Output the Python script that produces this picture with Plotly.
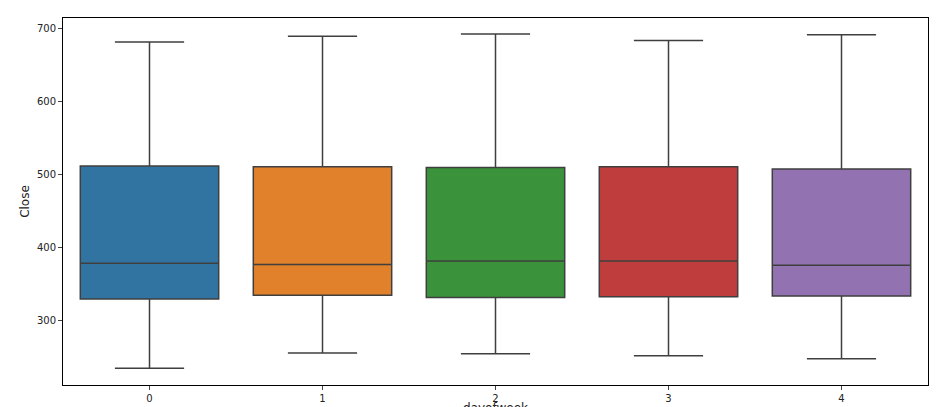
import plotly.graph_objects as go

days = [0, 1, 2, 3, 4]
lower = [234, 255, 254, 251, 247]
q1 = [329, 334, 331, 332, 333]
median = [378, 376, 381, 381, 375]
q3 = [511, 510, 509, 510, 507]
upper = [681, 689, 692, 683, 691]
colors = ["#3274a1", "#e1812c", "#3a923a", "#c03d3e", "#9372b2"]

fig = go.Figure()
for i, d in enumerate(days):
    fig.add_trace(go.Box(
        x=[d], q1=[q1[i]], median=[median[i]], q3=[q3[i]],
        lowerfence=[lower[i]], upperfence=[upper[i]],
        fillcolor=colors[i], line=dict(color="#3f3f3f", width=1.5),
        width=0.8, whiskerwidth=0.5, boxpoints=False, showlegend=False,
    ))

fig.update_layout(
    width=940, height=407, boxmode="overlay",
    paper_bgcolor="white", plot_bgcolor="white",
    margin=dict(l=55, r=20, t=10, b=30, autoexpand=False),
    font=dict(family="DejaVu Sans", size=10, color="#222"),
)
fig.update_xaxes(range=[-0.5, 4.5], tickvals=days, ticks="outside", ticklen=4,
                 showline=True, linecolor="black", mirror=True, showgrid=False,
                 automargin=False, title=dict(text="dayofweek", standoff=0))
fig.update_yaxes(range=[211, 714], tickvals=[300, 400, 500, 600, 700], ticks="outside",
                 ticklen=4, showline=True, linecolor="black", mirror=True, showgrid=False,
                 zeroline=False, automargin=False, title=dict(text="Close", standoff=4))
fig.write_html("out.html")
